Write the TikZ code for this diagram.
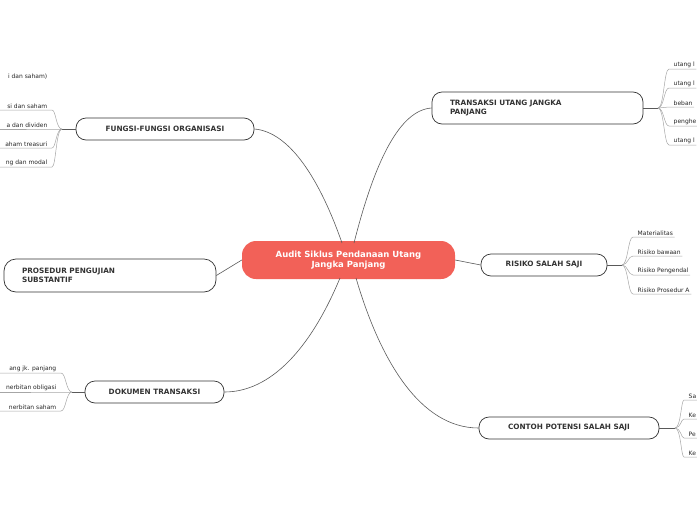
\documentclass[tikz,border=0pt]{standalone}
\usepackage{fontspec}
\setmainfont{DejaVu Sans}
\begin{document}
\begin{tikzpicture}[x=1pt,y=-1pt,
  branch/.style={draw=black!80,line width=0.7pt,rounded corners=10pt,fill=white,font=\bfseries\fontsize{7.3}{9}\selectfont,text=black!80},
  leaf/.style={inner sep=1.5pt,font=\fontsize{6}{7}\selectfont,text=black!85},
  conn/.style={draw=black!65,line width=0.6pt},
  lconn/.style={draw=black!35,line width=0.5pt}]
\clip (0,0) rectangle (697,520);
\useasboundingbox (0,0) rectangle (697,520);
% center
\node[fill={rgb,255:red,242;green,97;blue,88},rounded corners=14pt,minimum width=213pt,minimum height=38pt,text=white,font=\bfseries\fontsize{8.5}{10}\selectfont,align=center] (c) at (348.5,260) {Audit Siklus Pendanaan Utang\\Jangka Panjang};
% branches
\node[branch,minimum width=211pt,minimum height=32pt,text width=175pt,align=left] (t) at (537.5,108) {TRANSAKSI UTANG JANGKA\\PANJANG};
\node[branch,minimum width=178pt,minimum height=22pt] (f) at (165,129) {FUNGSI-FUNGSI ORGANISASI};
\node[branch,minimum width=126pt,minimum height=22pt] (r) at (544,265) {RISIKO SALAH SAJI};
\node[branch,minimum width=212pt,minimum height=33pt,text width=176pt,align=left,rounded corners=12pt] (p) at (110,275.5) {PROSEDUR PENGUJIAN\\SUBSTANTIF};
\node[branch,minimum width=139pt,minimum height=22pt] (d) at (154.5,392) {DOKUMEN TRANSAKSI};
\node[branch,minimum width=180pt,minimum height=22pt] (k) at (569,428) {CONTOH POTENSI SALAH SAJI};
% connectors
\coordinate (c1) at (342,243); \coordinate (c2) at (354,243);
\coordinate (c3) at (340,278); \coordinate (c4) at (356,278);
\draw[conn] (c1) .. controls (320,180) and (290,132) .. (f.east);
\draw[conn] (c2) .. controls (375,160) and (400,110) .. (t.west);
\draw[conn] (c.east) -- (r.west);
\draw[conn] (c.west) -- (p.east);
\draw[conn] (c3) .. controls (310,350) and (270,392) .. (d.east);
\draw[conn] (c4) .. controls (380,360) and (420,428) .. (k.west);
% leaves
\newcommand\rleaves[4]{%
  \foreach \yy/\tt [count=\i] in {#4}{
    \node[leaf,anchor=south west] (L\i) at (#3,\yy) {\tt};
    \draw[lconn] (#1,#2) .. controls (#1+6,#2) and (#1+6,\yy) .. (#3-3,\yy) -- (L\i.south east);
  }}
\newcommand\lleaves[4]{%
  \foreach \yy/\tt [count=\i] in {#4}{
    \node[leaf,anchor=south east] (M\i) at (#3,\yy) {\tt};
    \draw[lconn] (#1,#2) .. controls (#1-6,#2) and (#1-6,\yy) .. (#3+3,\yy) -- (0,\yy);
  }}
\draw[conn] (t.east) -- (658,108);
\rleaves{658}{108}{672}{69/utang l,88/utang l,107/beban,126/penghe,145/utang l}
\draw[conn] (r.east) -- (622,265);
\rleaves{622}{265}{636}{237/Materialitas,256/Risiko bawaan,275/Risiko Pengendal,294/Risiko Prosedur A}
\draw[conn] (k.east) -- (675,428);
\rleaves{675}{428}{687}{400/Sa,419/Ke,438/Pe,457/Ke}
\draw[conn] (f.west) -- (62,129);
\lleaves{62}{129}{49}{110/si dan saham,129/a dan dividen,148/aham treasuri,167/ng dan modal}
\draw[conn] (d.west) -- (72,392);
\lleaves{72}{392}{58}{373/ang jk. panjang,392/nerbitan obligasi,411/nerbitan saham}
\node[leaf,anchor=south east] (top) at (49,81) {i dan saham)};
\end{tikzpicture}
\end{document}
